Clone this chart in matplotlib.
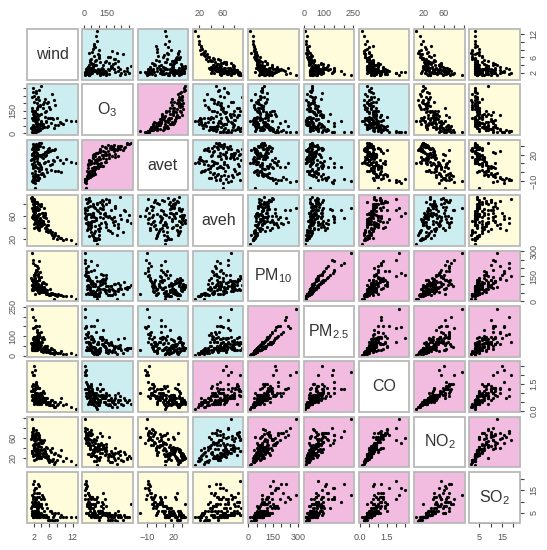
import matplotlib
matplotlib.use("Agg")
import matplotlib.pyplot as plt
from matplotlib.patches import Rectangle

plt.rcParams['font.family'] = ['Liberation Sans', 'DejaVu Sans']
plt.rcParams['mathtext.fontset'] = 'custom'
plt.rcParams['mathtext.rm'] = 'Liberation Sans'
plt.rcParams['mathtext.it'] = 'Liberation Sans:italic'

# observations (estimated from the panels, one value per day)
wind = [2.6, 2.0, 3.1, 1.9, 3.5, 7.5, 2.3, 3.0, 4.6, 9.0,
        2.2, 4.1, 2.4, 1.6, 2.5, 3.3, 6.4, 2.0, 3.4, 2.8,
        4.4, 8.2, 1.8, 2.3, 5.4, 1.5, 1.8, 2.6, 2.3, 4.0,
        2.4, 3.1, 11.5, 2.0, 3.2, 2.7, 8.8, 4.2, 2.1, 12.8,
        1.7, 3.6, 5.1, 7.2, 2.9, 10.2, 1.9, 2.8, 3.6, 6.6,
        2.6, 2.4, 4.9, 9.5, 1.4, 3.0, 2.2, 5.7, 3.1, 4.3,
        1.8, 2.9, 6.1, 8.0, 4.0, 2.5, 3.3, 2.0, 3.8, 1.6,
        5.0, 3.4, 7.0, 2.2, 4.7, 3.2, 2.1, 2.8, 5.5, 1.9,
        3.6, 2.4, 6.8, 1.7, 2.9, 4.9, 2.6, 1.5, 7.6, 3.4,
        2.2, 3.9, 5.3, 2.7, 1.8, 6.2, 3.0, 2.5, 4.6, 2.3,
        5.8, 1.6, 3.7, 7.2, 2.8, 4.3, 2.0, 3.1, 5.1, 2.6,
        1.9, 6.0, 3.3, 4.0, 2.4, 3.5, 5.6, 2.1, 4.5, 2.9]
o3 = [12, 40, 62, 8, 28, 55, 30, 15, 45, 70,
      10, 35, 22, 6, 48, 20, 68, 16, 38, 25,
      52, 58, 20, 11, 42, 32, 9, 24, 15, 75,
      95, 30, 80, 150, 45, 70, 75, 60, 110, 85,
      40, 190, 75, 35, 130, 90, 55, 170, 25, 100,
      70, 85, 140, 65, 35, 95, 210, 50, 115, 60,
      130, 45, 100, 100, 80, 75, 30, 150, 58, 105,
      230, 50, 95, 120, 40, 180, 250, 90, 200, 300,
      60, 140, 260, 170, 200, 110, 230, 150, 190, 120,
      135, 314, 80, 110, 275, 160, 120, 285, 210, 150,
      100, 240, 180, 220, 70, 195, 125, 240, 150, 270,
      90, 175, 290, 130, 140, 225, 210, 110, 170, 160]
avet = [-8, -5, -3, -11, -6, 1, -2, -9, -4, 0,
        -7, -1, 2, -10, -3, -6, 3, -8, 1, -5,
        -2, 2, -4, -12, 0, -1, -7, -3, -18, -2,
        8, 5, 12, 15, 10, 6, 14, 17, 7, 11,
        9, 18, 4, 13, 16, 15, 5, 16, 8, 9,
        18, 6, 12, 10, 14, 5, 17, 13, 11, 16,
        7, 13, 8, 17, 6, 18, 9, 12, 4, 15,
        18, 10, 14, 7, 11, 26, 30, 22, 24, 32,
        20, 28, 25, 19, 31, 23, 27, 21, 26, 29,
        20, 33, 22, 25, 28, 24, 19, 32, 21, 27,
        23, 26, 30, 25, 21, 28, 24, 29, 19, 27,
        22, 27, 33, 20, 23, 29, 26, 26, 21, 31]
aveh = [55, 78, 62, 70, 40, 28, 85, 48, 58, 22,
        66, 45, 82, 74, 50, 36, 30, 90, 64, 47,
        52, 25, 70, 60, 38, 88, 56, 76, 60, 43,
        68, 50, 18, 80, 45, 58, 22, 65, 40, 12,
        86, 55, 35, 26, 72, 20, 60, 84, 44, 28,
        52, 70, 62, 19, 92, 38, 78, 32, 48, 66,
        56, 42, 34, 21, 54, 74, 63, 46, 80, 58,
        40, 50, 23, 88, 47, 70, 55, 82, 45, 62,
        78, 50, 33, 88, 58, 66, 42, 90, 30, 72,
        64, 48, 56, 84, 68, 36, 80, 52, 74, 60,
        44, 93, 57, 28, 76, 50, 86, 62, 41, 70,
        80, 34, 54, 78, 66, 46, 52, 74, 60, 58]
pm10 = [180, 120, 60, 250, 140, 45, 95, 200, 110, 35,
        160, 85, 70, 290, 100, 130, 50, 150, 75, 210,
        115, 40, 90, 170, 65, 125, 230, 80, 40, 55,
        80, 150, 30, 90, 55, 190, 35, 110, 70, 12,
        130, 75, 100, 45, 160, 30, 120, 65, 175, 50,
        95, 220, 60, 28, 140, 85, 105, 40, 165, 55,
        115, 180, 72, 32, 145, 88, 48, 155, 92, 98,
        70, 240, 42, 125, 85, 90, 70, 120, 50, 85,
        60, 130, 40, 75, 100, 55, 110, 65, 35, 125,
        70, 95, 45, 115, 80, 38, 105, 75, 60, 140,
        42, 95, 88, 15, 100, 65, 135, 78, 50, 115,
        68, 36, 82, 72, 108, 60, 44, 120, 58, 90]
pm25 = [150, 60, 45, 140, 115, 18, 70, 110, 85, 25,
        90, 70, 30, 240, 50, 105, 38, 70, 60, 120,
        95, 16, 45, 145, 50, 60, 200, 35, 30, 25,
        60, 70, 12, 40, 40, 150, 13, 85, 30, 6,
        65, 55, 40, 30, 130, 11, 90, 28, 95, 35,
        45, 185, 45, 10, 65, 70, 50, 28, 90, 22,
        85, 100, 30, 14, 120, 40, 36, 80, 70, 42,
        50, 150, 15, 95, 40, 70, 28, 60, 35, 40,
        45, 70, 16, 55, 45, 25, 85, 30, 20, 60,
        50, 40, 32, 90, 35, 15, 80, 30, 45, 70,
        28, 40, 65, 8, 75, 30, 60, 55, 22, 90,
        32, 25, 40, 55, 50, 42, 20, 95, 28, 65]
co = [1.6, 0.9, 0.9, 2.0, 1.3, 0.5, 1.4, 0.8, 1.0, 0.7,
      2.5, 0.8, 1.2, 2.2, 1.5, 0.7, 0.6, 2.0, 0.8, 1.0,
      1.1, 0.4, 1.5, 2.3, 0.7, 1.1, 1.2, 1.3, 1.0, 0.9,
      0.9, 0.8, 0.2, 0.8, 0.4, 1.0, 0.5, 0.6, 0.8, 0.1,
      1.4, 0.5, 0.7, 0.5, 0.8, 0.4, 1.2, 0.4, 1.0, 0.6,
      0.6, 1.2, 0.7, 0.3, 1.1, 0.6, 0.9, 0.5, 0.9, 0.7,
      0.7, 1.4, 0.5, 0.3, 1.0, 0.8, 0.4, 0.9, 1.0, 0.6,
      0.6, 1.3, 0.3, 1.2, 0.6, 0.7, 0.4, 1.3, 0.4, 0.6,
      0.7, 0.5, 0.3, 0.9, 0.6, 0.5, 1.0, 0.8, 0.2, 0.7,
      0.5, 0.4, 0.5, 1.5, 0.6, 0.3, 0.9, 0.5, 0.7, 1.0,
      0.4, 0.8, 0.6, 0.2, 0.9, 0.5, 1.2, 0.6, 0.4, 0.7,
      0.7, 0.3, 0.5, 0.9, 0.7, 0.5, 0.4, 1.1, 0.6, 0.6]
no2 = [65, 45, 45, 80, 58, 30, 68, 70, 55, 35,
       60, 50, 60, 97, 75, 62, 32, 55, 44, 70,
       52, 26, 78, 50, 40, 72, 74, 64, 62, 50,
       48, 45, 14, 42, 25, 55, 24, 35, 45, 6,
       65, 30, 42, 28, 45, 20, 68, 26, 52, 40,
       38, 62, 34, 15, 58, 44, 40, 25, 50, 30,
       46, 70, 35, 16, 55, 38, 28, 48, 54, 30,
       30, 66, 18, 64, 38, 34, 16, 40, 20, 24,
       36, 26, 14, 62, 28, 22, 32, 34, 12, 30,
       40, 20, 24, 70, 28, 16, 38, 18, 30, 36,
       20, 34, 25, 9, 58, 24, 40, 26, 28, 32,
       34, 13, 20, 42, 38, 20, 17, 38, 28, 22]
so2 = [16, 12, 7, 11, 14, 5, 10, 18, 11, 4,
       15, 13, 8, 13, 9, 17, 6, 19, 9, 14,
       12, 5, 9, 16, 7, 10, 18, 11, 5, 8,
       6, 9, 3, 5, 4, 11, 3, 7, 6, 3,
       8, 4, 9, 4, 7, 3, 12, 5, 8, 5,
       6, 10, 4, 3, 7, 10, 5, 3, 8, 4,
       9, 7, 6, 2, 11, 5, 5, 8, 9, 6,
       4, 12, 3, 10, 6, 4, 3, 12, 3, 3,
       4, 5, 2, 5, 4, 3, 6, 4, 2, 4,
       5, 9, 3, 6, 3, 2, 6, 3, 4, 5,
       3, 4, 3, 1.5, 5, 3, 14, 3, 4, 4,
       4, 2, 3, 5, 11, 3, 2, 5, 4, 3]

variables = [wind, o3, avet, aveh, pm10, pm25, co, no2, so2]
names = ['wind', 'O$_3$', 'avet', 'aveh', 'PM$_{10}$', 'PM$_{2.5}$',
         'CO', 'NO$_2$', 'SO$_2$']

# axis limits, tick positions and which ticks carry a label
limits = [(0.3, 13.3), (-10.7, 326.7), (-20.2, 36.5), (8.8, 96), (-1, 305),
          (-4, 254), (-0.07, 2.77), (1.4, 102), (0.64, 23)]
ticks = [[2, 4, 6, 8, 10, 12], [0, 50, 100, 150, 200, 250, 300],
         [-10, 0, 10, 20, 30], [20, 40, 60, 80], [0, 50, 100, 150, 200, 250, 300],
         [0, 50, 100, 150, 200, 250], [0.0, 0.5, 1.0, 1.5, 2.0, 2.5],
         [20, 40, 60, 80, 100], [5, 10, 15, 20]]
shown = [{2: '2', 6: '6', 12: '12'}, {0: '0', 150: '150'}, {-10: '\u221210', 20: '20'},
         {20: '20', 60: '60'}, {0: '0', 150: '150', 300: '300'},
         {0: '0', 100: '100', 250: '250'}, {0.0: '0.0', 1.5: '1.5'},
         {20: '20', 60: '60'}, {5: '5', 15: '15'}]

# panel shading: y = negative, c = weak, p = strong positive
shade = ["-ccyyyyyy",
         "c-pccccyy",
         "cp-cccyyy",
         "ycc-ccpcy",
         "yccc-pppp",
         "ycccp-ppp",
         "ycyppp-pp",
         "yyycppp-p",
         "yyyypppp-"]
fills = {'y': '#fffcdc', 'c': '#cdeef0', 'p': '#f2bce0', '-': 'white'}

fig = plt.figure(figsize=(5.47, 5.5), dpi=100)
n = len(variables)
pitch_x, pitch_y, size = 55.3, 55.4, 50.6


def side_axis(ax, side, k):
    lab = [shown[k].get(t, '') for t in ticks[k]]
    sp = ax.spines[side]
    sp.set_visible(True)
    sp.set_bounds(ticks[k][0], ticks[k][-1])
    sp.set_color('#444444')
    sp.set_linewidth(0.7)
    sp.set_zorder(0)
    kw = dict(direction='out', length=3.2, width=0.8, color='#444444',
              labelsize=6.5, labelcolor='#555555')
    if side in ('top', 'bottom'):
        ax.set_xticks(ticks[k])
        ax.set_xticklabels(lab)
        ax.tick_params(axis='x', top=(side == 'top'), bottom=(side == 'bottom'),
                       labeltop=(side == 'top'), labelbottom=(side == 'bottom'),
                       pad=4.5, **kw)
    else:
        ax.set_yticks(ticks[k])
        ax.set_yticklabels(lab, rotation=90, va='center')
        ax.tick_params(axis='y', left=(side == 'left'), right=(side == 'right'),
                       labelleft=(side == 'left'), labelright=(side == 'right'),
                       pad=3.5, **kw)


for r in range(n):
    for c in range(n):
        left = (27 + c * pitch_x) / 547
        bottom = 1 - (29 + r * pitch_y + size) / 550
        ax = fig.add_axes([left, bottom, size / 547, size / 550])
        ax.set_facecolor(fills[shade[r][c]])
        for s in ax.spines.values():
            s.set_visible(False)
        ax.set_xticks([])
        ax.set_yticks([])
        ax.set_xlim(limits[c])
        ax.set_ylim(limits[r])
        if r == c:
            ax.text(0.5, 0.5, names[r], transform=ax.transAxes, ha='center',
                    va='center', fontsize=11.5, color='#333333')
        else:
            ax.plot(variables[c], variables[r], 'o', ms=2.3, mew=0, color='black')
        ax.add_patch(Rectangle((0, 0), 1, 1, transform=ax.transAxes, fill=False,
                               ec='#b9b9b9', lw=1.3, clip_on=False, zorder=5))
        if r == 0 and c % 2 == 1:
            side_axis(ax, 'top', c)
        if r == n - 1 and c % 2 == 0:
            side_axis(ax, 'bottom', c)
        if c == 0 and r % 2 == 1:
            side_axis(ax, 'left', r)
        if c == n - 1 and r % 2 == 0:
            side_axis(ax, 'right', r)

fig.savefig('out.png', dpi=100)
